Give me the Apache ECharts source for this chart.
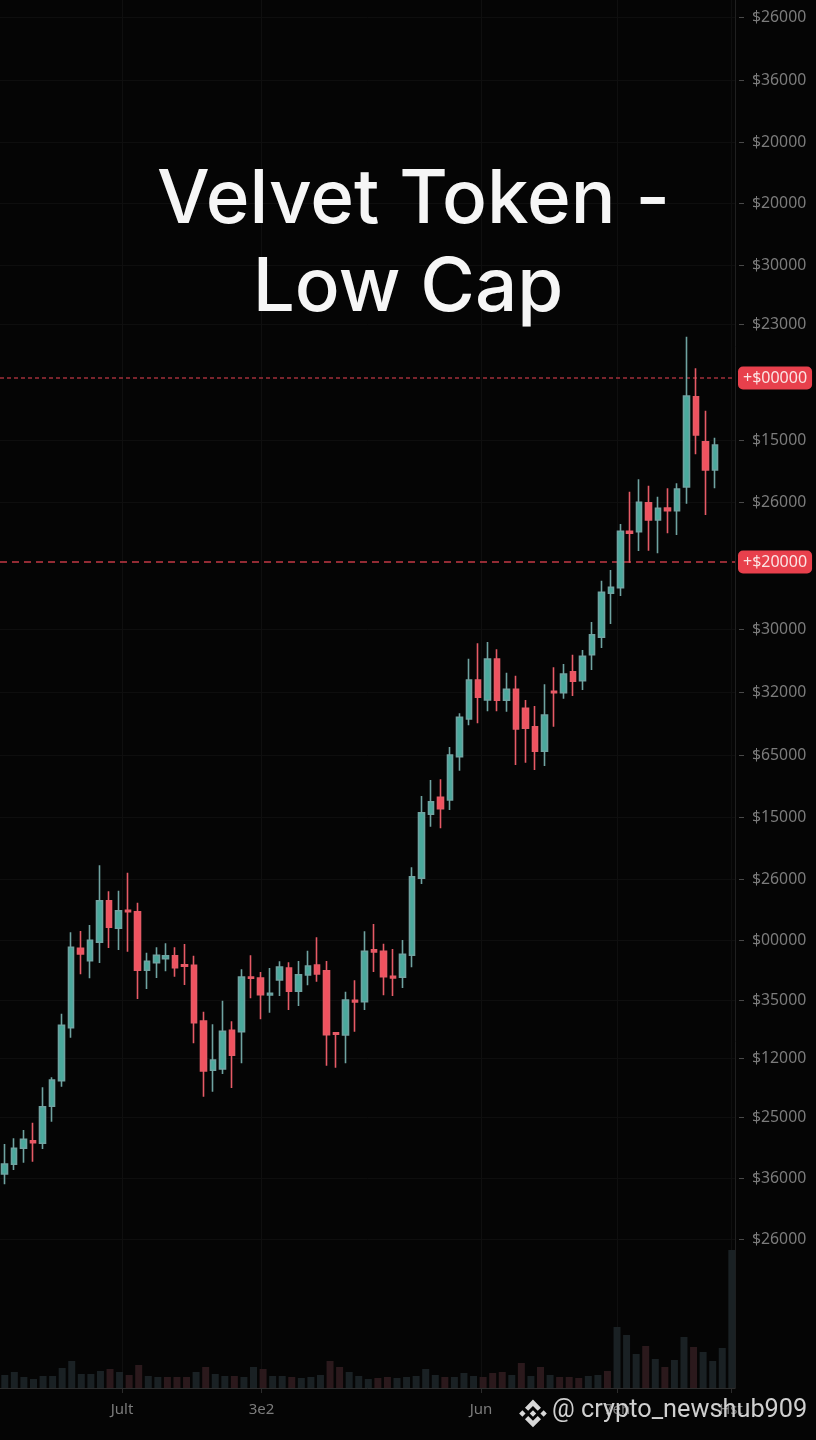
<!DOCTYPE html>
<html>
<head>
<meta charset="utf-8">
<style>html,body{margin:0;padding:0;background:#050505}#c{width:816px;height:1440px}</style>
<script src="https://cdn.jsdelivr.net/npm/echarts@6/dist/echarts.min.js"></script>
</head>
<body>
<div id="c"></div>
<script>
// Candles, one row per session: open, close, low, high (price scale)
const opens = [2260,2357,2517,2593,2567,2937,3193,3723,4517,4393,4577,4993,4717,4897,4883,4297,4373,4413,4443,4353,4347,3790,3297,3310,3697,3683,4230,4220,4050,4200,4320,4087,4250,4350,4293,3673,3650,3997,3983,4503,4487,4237,4227,4447,5217,5857,6027,6000,6433,6810,7200,7000,7410,6997,7107,6917,6733,6487,7087,7073,7283,7193,7453,7627,8067,8123,8687,8683,8973,8800,8920,8893,9130,10033,9583,9300];
const closes = [2360,2517,2607,2573,2933,3200,3747,4527,4460,4597,4993,4727,4893,4883,4297,4387,4447,4443,4323,4337,3773,3290,3400,3687,3447,4230,4217,4053,4067,4330,4087,4253,4340,4260,3653,3657,4000,3980,4487,4480,4233,4220,4457,5233,5873,5983,5913,6450,6827,7200,7027,7410,6997,7107,6710,6717,6487,6850,7073,7260,7187,7437,7653,8077,8127,8687,8667,8977,8800,8917,8893,9110,10040,9650,9300,9550];
const lows = [2157,2300,2373,2383,2510,2783,3133,3623,4257,4217,4370,4520,4500,4483,4010,4110,4220,4287,4233,4150,3567,3033,3083,3260,3120,3367,4017,3807,3873,4040,3900,3940,4147,4183,3343,3323,3367,3683,3900,4280,4047,4040,4120,4327,5160,5733,5717,5900,6293,6747,6767,6887,6887,6883,6350,6373,6300,6340,6733,7013,7040,7100,7300,7520,7760,8040,8373,8490,8493,8467,8667,8650,8963,9457,8850,9117];
const highs = [2560,2617,2700,2773,3127,3227,3863,4677,4690,4750,5347,5087,5093,5273,4973,4473,4527,4567,4527,4560,4443,3883,3757,3993,3787,4307,4447,4280,4320,4387,4377,4390,4493,4627,4390,3673,4083,4197,4687,4760,4563,4510,4600,5327,6040,6200,6207,6530,6867,7413,7567,7580,7507,7273,7243,7000,6940,7157,7327,7360,7453,7500,7780,8193,8300,8760,9083,9207,9143,9033,9117,9167,10633,10317,9893,9623];
const sessions = opens.map((_, i) => String(i));
const candleSlots = sessions.concat(['a', 'b']);

// Volume bars
const volumes = [13,16,11,9,12,12,20,27,14,14,17,19,16,13,23,12,11,11,11,11,16,21,14,12,12,11,21,19,12,12,11,10,11,13,27,21,16,12,9,10,11,10,11,12,19,13,11,11,15,12,11,15,16,13,25,12,21,13,11,11,10,12,13,17,61,53,34,42,29,21,28,51,41,36,27,40,138];
const volumeFalling = [0,0,0,0,0,0,0,0,0,0,0,1,0,1,1,0,0,1,1,1,0,1,0,0,1,0,0,1,0,0,1,0,0,0,1,1,0,0,0,1,1,0,0,0,0,0,1,0,0,0,1,1,1,0,1,0,1,0,1,1,1,0,0,1,0,0,0,1,0,1,0,0,1,0,0,0,0];

// Price axis ticks (the label text is printed as in the picture)
const priceTicks = [13830,13200,12580,11970,11350,10760,9600,8980,7710,7080,6450,5830,5210,4600,4000,3420,2830,2220,1610];
const priceLabels = ['$26000','$36000','$20000','$20000','$30000','$23000','$15000','$26000','$30000','$32000','$65000','$15000','$26000','$00000','$35000','$12000','$25000','$36000','$26000'];

// Marked price levels
const levelValues = [10220, 8380];
const levelLabels = ['+$00000', '+$20000'];

// Time axis ticks
const timeTicks = [12.52, 27.22, 50.35, 64.68, 76.69];
const timeLabels = ['Jult', '3e2', 'Jun', '7eh', 'Hst'];

const titleLines = ['Velvet Token -', 'Low Cap'];
const watermark = '@ crypto_newshub909';

const TEAL = '#4aa99d', RED = '#f0525f';
const axisFont = '"Noto Sans", sans-serif';
const chart = echarts.init(document.getElementById('c'), null, {renderer: 'canvas'});

const logoPieces = [
  [[12,3],[17.2,8.2],[15.1,10.3],[12,7.2],[8.9,10.3],[6.8,8.2]],
  [[12,21],[17.2,15.8],[15.1,13.7],[12,16.8],[8.9,13.7],[6.8,15.8]],
  [[3,12],[5.1,9.9],[7.2,12],[5.1,14.1]],
  [[21,12],[18.9,9.9],[16.8,12],[18.9,14.1]],
  [[12,9.9],[14.1,12],[12,14.1],[9.9,12]]
];

const titleStyle = {color: '#f6f6f6', fontFamily: 'Inter, sans-serif', fontWeight: 550, fontSize: 74.5};

chart.setOption({
  animation: false,
  backgroundColor: '#050505',
  title: [
    {text: titleLines[0], left: 408.5, top: 158, textAlign: 'center', textStyle: titleStyle},
    {text: titleLines[1], left: 403, top: 246, textAlign: 'center', textStyle: titleStyle}
  ],
  grid: [
    {left: -1.55, width: 740.2, top: 0, height: 1388},
    {left: -1.8, width: 738.4, top: 1240, height: 148},
    {left: 0, width: 735, top: 0, height: 1388}
  ],
  xAxis: [
    {type: 'category', gridIndex: 0, data: candleSlots, show: false},
    {type: 'category', gridIndex: 1, data: volumes.map((_, i) => String(i)), show: false},
    {
      type: 'value', gridIndex: 2, min: -0.337, max: 77.11, position: 'bottom',
      axisLine: {show: true, onZero: false, lineStyle: {color: '#2c2c2c', width: 1}},
      axisTick: {show: true, length: 5, customValues: timeTicks, lineStyle: {color: '#2c2c2c'}},
      axisLabel: {
        show: true, margin: 14, customValues: timeTicks, color: '#7c7c7c', fontSize: 15, fontFamily: axisFont,
        formatter: v => timeLabels[timeTicks.indexOf(v)] ?? ''
      },
      splitLine: {show: true, lineStyle: {color: '#0f0f0f', width: 1}}
    }
  ],
  yAxis: [
    {type: 'value', gridIndex: 0, min: 120, max: 14000, show: false},
    {type: 'value', gridIndex: 1, min: 0, max: 148, show: false},
    {
      type: 'value', gridIndex: 2, min: 120, max: 14000, position: 'right', offset: 4,
      axisLine: {show: false, onZero: false},
      axisTick: {show: true, length: 5, customValues: priceTicks, lineStyle: {color: '#4a4a4a', width: 1}},
      axisLabel: {
        show: true, margin: 13, customValues: priceTicks, color: '#7c7c7c', fontSize: 15.8, fontFamily: axisFont,
        padding: [4, 0, 0, 0],
        formatter: v => priceLabels[priceTicks.indexOf(v)] ?? ''
      },
      splitLine: {show: true, lineStyle: {color: '#0e0e0e', width: 1}}
    },
    {
      type: 'value', gridIndex: 2, min: 120, max: 14000, position: 'right',
      axisLine: {show: true, onZero: false, lineStyle: {color: '#202020', width: 1}},
      axisTick: {show: false}, axisLabel: {show: false}, splitLine: {show: false}
    }
  ],
  series: [
    {
      type: 'bar', xAxisIndex: 1, yAxisIndex: 1, barWidth: 7, z: 1, silent: true,
      data: volumes,
      itemStyle: {color: p => volumeFalling[p.dataIndex] ? '#2b191c' : '#1a2124'}
    },
    {
      type: 'line', xAxisIndex: 2, yAxisIndex: 2, data: [], silent: true, z: 2,
      markLine: {
        silent: true, symbol: 'none', animation: false, z: 2,
        label: {
          show: true, position: 'end', distance: 3, color: '#fbe4e4', backgroundColor: '#e8404c',
          borderRadius: 5, padding: [4, 5, 3, 5], fontSize: 16, fontFamily: axisFont,
          formatter: p => levelLabels[levelValues.indexOf(p.value)]
        },
        data: [
          {yAxis: levelValues[0], lineStyle: {color: '#a02f3a', type: [4, 3], width: 1.5}},
          {yAxis: levelValues[1], lineStyle: {color: '#c23844', type: [7, 5], width: 1.5}}
        ]
      }
    },
    {
      type: 'candlestick', xAxisIndex: 0, yAxisIndex: 0, barWidth: 6, z: 5, silent: true,
      data: opens.map((o, i) => [o, closes[i], lows[i], highs[i]]),
      itemStyle: {color: TEAL, color0: RED, borderColor: '#6fa3a1', borderColor0: '#e65a66', borderWidth: 1.6}
    }
  ],
  graphic: [
    {
      type: 'group', x: 514.5, y: 1395, scaleX: 1.54, scaleY: 1.54, silent: true,
      children: logoPieces.map(points => ({type: 'polygon', shape: {points}, style: {fill: '#d8d8d8'}}))
    },
    {
      type: 'text', z: 20, silent: true, x: 552, y: 1398,
      style: {text: watermark, fill: '#cfcfcf', fontSize: 25.3, fontFamily: 'Roboto, sans-serif'}
    }
  ]
});
</script>
</body>
</html>
